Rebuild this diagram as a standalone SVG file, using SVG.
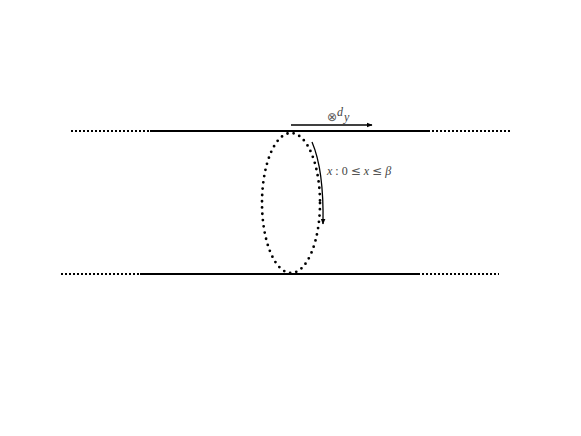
<svg xmlns="http://www.w3.org/2000/svg" width="581" height="436" viewBox="0 0 581 436">
<style>
.solid{stroke:#000;stroke-width:2;fill:none}
.dots{stroke:#000;stroke-width:2;stroke-dasharray:2 2;fill:none}
.ell{stroke:#000;stroke-width:2.8;stroke-dasharray:0 6.3;stroke-linecap:round;fill:none}
.arr{stroke:#000;stroke-width:1.3;fill:none}
.lbl{font-family:"Liberation Serif","DejaVu Serif",serif;font-style:italic;font-size:12px;fill:#444}
.up{font-family:"Liberation Serif","DejaVu Serif",serif;font-size:12px;fill:#444}
.sym{font-family:"DejaVu Sans",sans-serif;font-size:12px;fill:#555}
</style>
<defs>
<marker id="ah" viewBox="0 0 10 10" refX="9" refY="5" markerWidth="6" markerHeight="6" orient="auto" markerUnits="userSpaceOnUse">
<path d="M0,1 L10,5 L0,9 Z" fill="#000"/>
</marker>
</defs>
<rect width="581" height="436" fill="#fff"/>
<g id="top-line">
<line class="dots" x1="71" y1="131" x2="150" y2="131"/>
<line class="solid" x1="150" y1="131" x2="428" y2="131"/>
<line class="dots" x1="428" y1="131" x2="510" y2="131"/>
</g>
<g id="bottom-line">
<line class="dots" x1="61" y1="274" x2="140" y2="274"/>
<line class="solid" x1="140" y1="274" x2="418" y2="274"/>
<line class="dots" x1="418" y1="274" x2="499" y2="274"/>
</g>
<g id="loop">
<ellipse class="ell" cx="291" cy="203" rx="29" ry="70"/>
</g>
<g id="connectors">
<line class="arr" x1="291" y1="125" x2="372" y2="125" marker-end="url(#ah)"/>
<path class="arr" d="M312,142 Q324,170 323,224" marker-end="url(#ah)"/>
</g>
<g id="labels">
<text class="sym" x="327" y="121" font-size="13">⊗<tspan class="lbl" font-size="8" dy="-5">d</tspan><tspan class="lbl" dy="5" dx="1">y</tspan></text>
<text class="up" x="327" y="175"><tspan class="lbl">x</tspan> : 0 <tspan class="sym">≤</tspan> <tspan class="lbl">x</tspan> <tspan class="sym">≤</tspan> <tspan class="lbl">β</tspan></text>
</g>
</svg>
